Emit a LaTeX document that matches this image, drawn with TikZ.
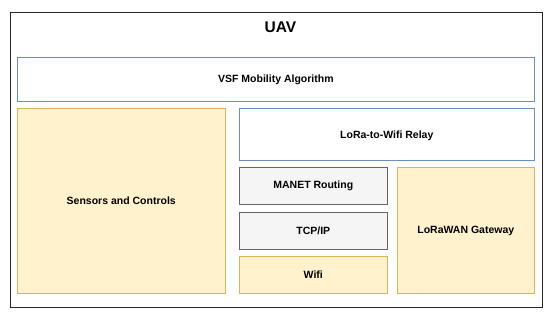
\documentclass[tikz,border=0pt]{standalone}
\usepackage{fontspec}
\setmainfont{Liberation Sans}
\definecolor{yfill}{HTML}{FFF2CC}
\definecolor{ydraw}{HTML}{D6B656}
\definecolor{bdraw}{HTML}{6C8EBF}
\definecolor{gfill}{HTML}{F5F5F5}
\definecolor{gdraw}{HTML}{666666}
\begin{document}
\begin{tikzpicture}[x=1pt,y=-1pt,
  lbl/.style={font=\bfseries\fontsize{10.5}{12}\selectfont,text=black},
  ybox/.style={fill=yfill,draw=ydraw,line width=0.9pt},
  bbox/.style={fill=white,draw=bdraw,line width=0.9pt},
  gbox/.style={fill=gfill,draw=gdraw,line width=0.9pt},
  obox/.style={fill=white,draw=black!85,line width=1pt}]
\useasboundingbox (0,0) rectangle (550,323);
\draw[obox] (10.3,12.3) rectangle (542.7,307.7);
\node[lbl,font=\bfseries\fontsize{15.5}{18}\selectfont] (uav) at (280.5,27) {UAV};
\draw[bbox] (17.5,57) rectangle node[lbl,yshift=-1pt] (vsf) {VSF Mobility Algorithm} (534.3,101);
\draw[ybox] (17.5,108.5) rectangle node[lbl] (sens) {Sensors and Controls} (225,293.3);
\draw[bbox] (239.3,108.5) rectangle node[lbl,yshift=-1.5pt] (relay) {LoRa-to-Wifi Relay} (534.3,160);
\draw[gbox] (239.3,167.7) rectangle node[lbl] (manet) {MANET Routing} (387.3,204.3);
\draw[gbox] (239.3,212) rectangle node[lbl] (tcp) {TCP/IP} (387.3,249);
\draw[ybox] (239.3,256.7) rectangle node[lbl] (wifi) {Wifi} (387.3,293.3);
\draw[ybox] (397.3,167.7) rectangle node[lbl] (lora) {LoRaWAN Gateway} (534.3,293.3);
\end{tikzpicture}
\end{document}
